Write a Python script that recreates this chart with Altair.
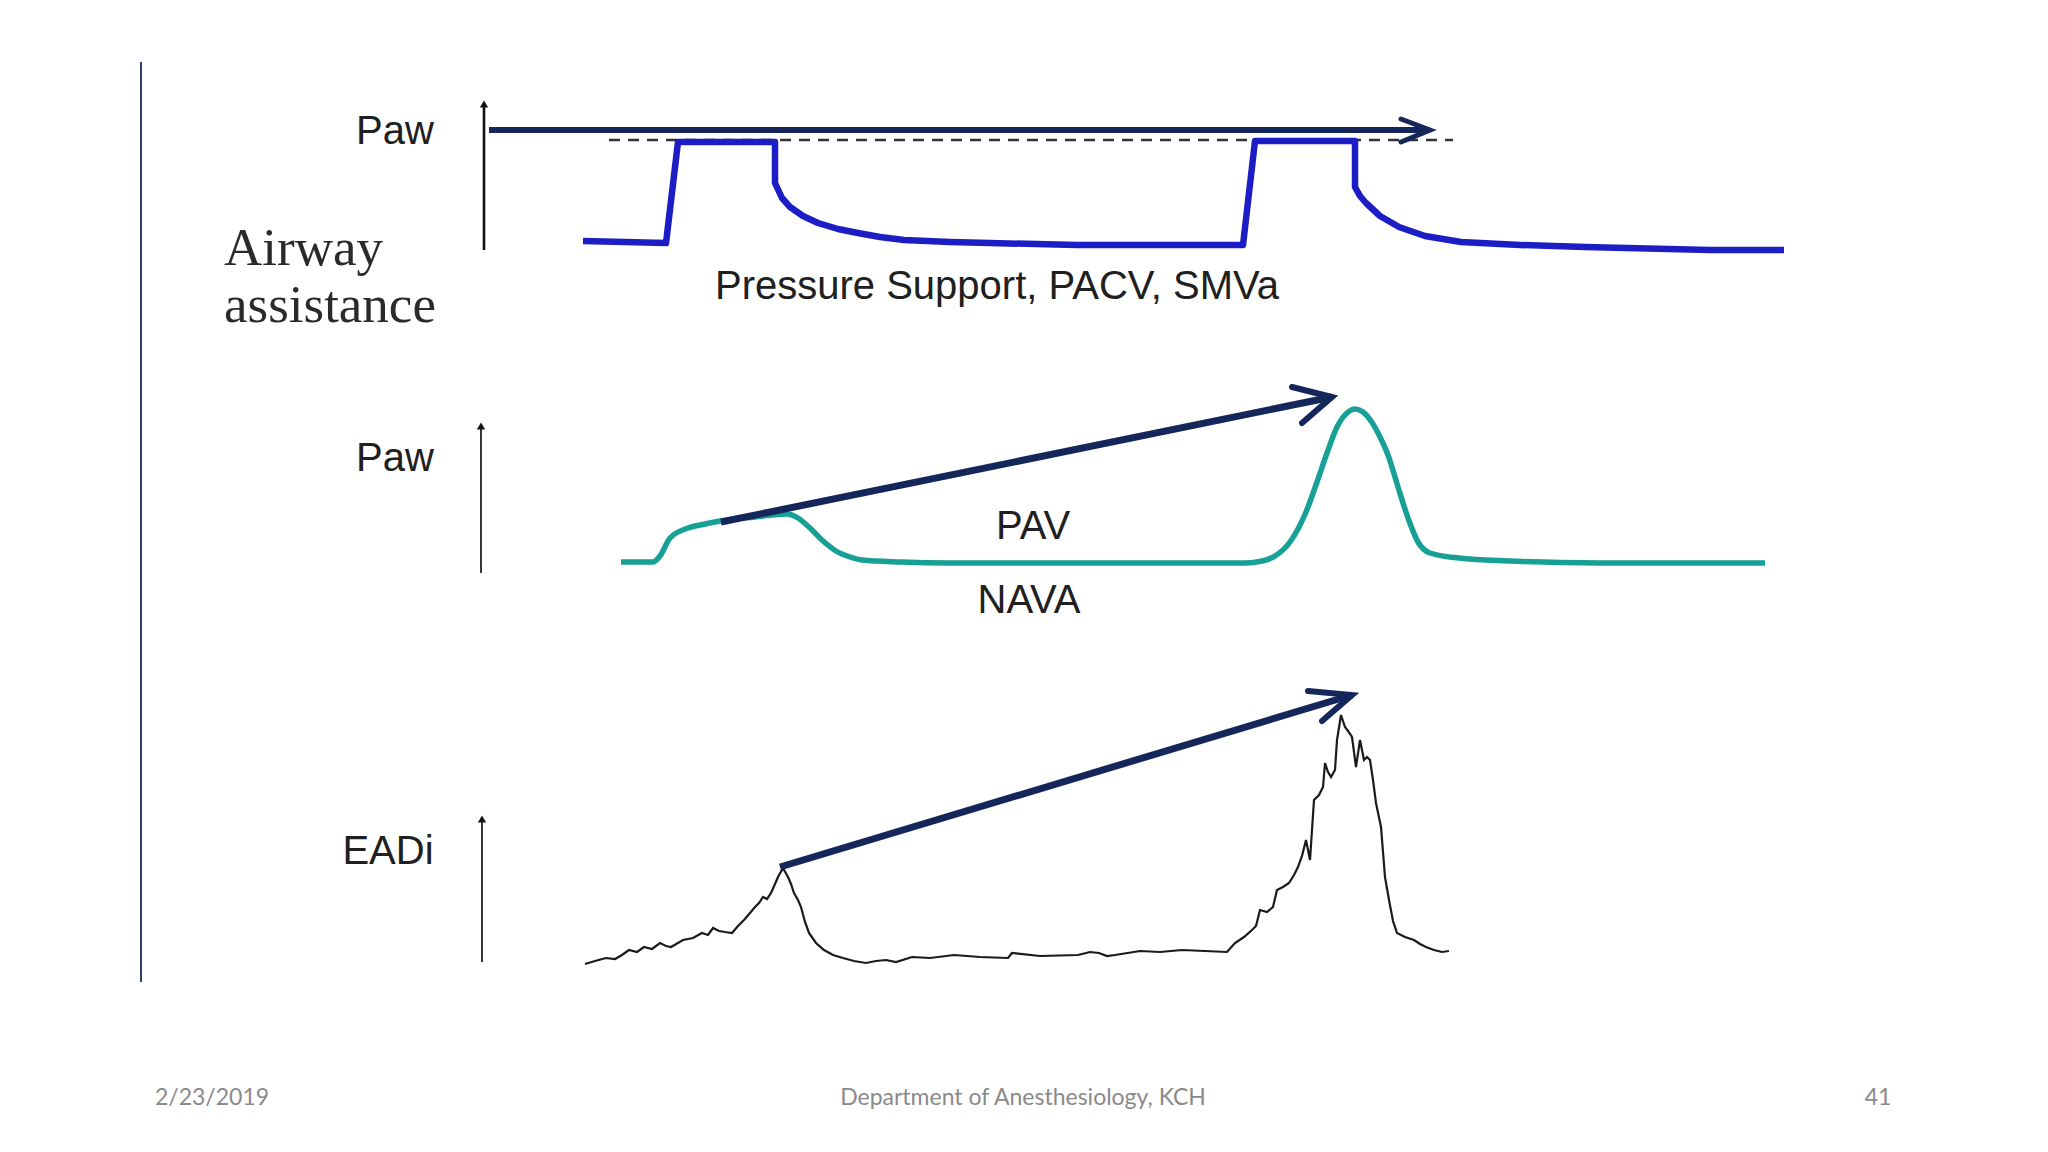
import altair as alt
import pandas as pd

W, H = 2048, 1152

# ---- values (pixel-space coordinates, y downwards) ----
# slide left border
border_x = [141]
border_y = [62]
border_y2 = [982]

# vertical axis arrows (top panel, middle panel, bottom panel)
axis_x = [484, 481, 482]
axis_top = [104, 426, 819]
axis_bottom = [250, 573, 962]

# top panel: pressure-support waveform
ps_x = [583, 666, 678, 775, 775, 782, 790, 803, 818, 838, 858, 880, 904, 950, 990, 1077, 1243,
        1255, 1355, 1355, 1360, 1366, 1380, 1399, 1425, 1461, 1520, 1585, 1710, 1784]
ps_y = [241, 243, 142, 142, 183, 198, 207, 216, 223, 229, 233, 237, 240, 242, 243, 245, 245,
        141, 141, 187, 196, 203, 216, 227, 236, 242, 245, 247, 250, 250]

# top panel: horizontal target arrow and dashed level
top_arrow_x = [489, 1430]
top_arrow_y = [130, 130]
top_head_x = [1401, 1430, 1401]
top_head_y = [119, 130, 142]
dash_x = [609]
dash_x2 = [1453]
dash_y = [140]

# middle panel: PAV / NAVA airway pressure
tl_x = [621, 653, 660, 670, 688, 705, 720, 755, 787, 798, 810, 822, 836, 850, 862, 900, 950, 1050,
        1150, 1245, 1262, 1275, 1290, 1306, 1317, 1327, 1337, 1347, 1355, 1363, 1371, 1380, 1388,
        1398, 1408, 1418, 1430, 1459, 1510, 1600, 1765]
tl_y = [562, 562, 556, 538, 528, 524, 521, 517, 514, 518, 528, 540, 551, 557, 560, 562, 563, 563,
        563, 563, 561, 556, 542, 512, 482, 453, 427, 413, 409, 412, 421, 437, 455,
        487, 518, 542, 553, 558, 561, 563, 563]
mid_arrow_x = [721, 1332]
mid_arrow_y = [522, 397]
mid_head_x = [1292, 1332, 1302]
mid_head_y = [387, 397, 423]

# bottom panel: EADi trace
ea_x = [585, 595, 606, 615, 622, 629, 637, 644, 652, 660, 666, 671, 683, 693, 702, 708, 713, 719, 725,
        732, 738, 744, 750, 755, 759, 763, 767, 771, 775, 778, 783, 788, 791, 794, 798, 801, 805, 809,
        816, 824, 833, 843, 854, 866, 876, 886, 896, 912, 930, 954, 980, 1008, 1012, 1040, 1078, 1090,
        1099, 1107, 1115, 1140, 1160, 1182, 1205, 1227, 1235, 1244, 1252, 1256, 1260, 1267, 1273,
        1277, 1283, 1289, 1294, 1298, 1302, 1306, 1310, 1314, 1319, 1323, 1325, 1328, 1331, 1335,
        1337, 1341, 1345, 1348, 1352, 1356, 1360, 1364, 1367, 1370, 1373, 1376, 1381, 1385, 1389,
        1393, 1397, 1405, 1414, 1420, 1426, 1434, 1442, 1449]
ea_y = [964, 961, 958, 959, 955, 950, 952, 947, 949, 943, 946, 947, 940, 938, 933, 935, 928, 931, 932,
        933, 926, 920, 913, 907, 903, 897, 899, 893, 884, 877, 868, 877, 884, 893, 900, 907, 922, 933,
        943, 950, 955, 958, 961, 963, 961, 960, 962, 957, 958, 955, 957, 958, 953, 956, 955, 952,
        953, 956, 955, 951, 952, 950, 951, 952, 943, 937, 930, 926, 910, 912, 907,
        890, 887, 883, 875, 867, 856, 840, 860, 800, 795, 787, 763, 772, 777, 770,
        740, 715, 727, 731, 737, 767, 740, 760, 757, 760, 780, 803, 827, 877, 900,
        921, 933, 937, 940, 944, 947, 950, 952, 951]
bot_arrow_x = [780, 1352]
bot_arrow_y = [867, 695]
bot_head_x = [1308, 1352, 1322]
bot_head_y = [691, 695, 721]

# text
sans_text = ["Paw", "Paw", "EADi", "Pressure Support, PACV, SMVa", "PAV", "NAVA"]
sans_x = [395, 395, 388, 997, 1033, 1029]
sans_y = [144, 471, 864, 299, 539, 613]
serif_text = ["Airway", "assistance"]
serif_x = [224, 224]
serif_y = [265, 322]
footer_text = ["2/23/2019", "Department of Anesthesiology, KCH", "41"]
footer_x = [212, 1023, 1878]
footer_y = [1098, 1098, 1098]

# ---- chart ----
xs = alt.Scale(domain=[0, W], range=[0, W], nice=False, zero=False)
ys = alt.Scale(domain=[0, H], range=[0, H], nice=False, zero=False)


def X(f="x"):
    return alt.X(f"{f}:Q", scale=xs, axis=None)


def Y(f="y"):
    return alt.Y(f"{f}:Q", scale=ys, axis=None)


def line_df(xv, yv):
    return pd.DataFrame({"x": xv, "y": yv, "i": list(range(len(xv)))})


NAVY = "#15275a"

border = alt.Chart(pd.DataFrame({"x": border_x, "y": border_y, "y2": border_y2})).mark_rule(
    color="#2a3f6e", strokeWidth=2).encode(x=X(), y=Y(), y2="y2:Q")

axes_df = pd.DataFrame({"x": axis_x, "y": axis_top, "y2": axis_bottom})
axis_top_rule = alt.Chart(axes_df.iloc[:1]).mark_rule(color="#111111", strokeWidth=2.6).encode(
    x=X(), y=Y(), y2="y2:Q")
axis_low_rule = alt.Chart(axes_df.iloc[1:]).mark_rule(color="#222222", strokeWidth=1.8).encode(
    x=X(), y=Y(), y2="y2:Q")
axis_heads = alt.Chart(axes_df).mark_point(shape="triangle-up", filled=True, color="#111111",
                                           size=70, opacity=1).encode(x=X(), y=Y())

dash = alt.Chart(pd.DataFrame({"x": dash_x, "x2": dash_x2, "y": dash_y})).mark_rule(
    color="#333333", strokeWidth=2.5, strokeDash=[11, 8]).encode(x=X(), x2="x2:Q", y=Y())

ps = alt.Chart(line_df(ps_x, ps_y)).mark_line(color="#1d1dc6", strokeWidth=6.5, strokeJoin="round").encode(
    x=X(), y=Y(), order="i:Q")


def arrow(lx, ly, hx, hy, width):
    a = alt.Chart(line_df(lx, ly)).mark_line(color=NAVY, strokeWidth=width, strokeCap="butt").encode(
        x=X(), y=Y(), order="i:Q")
    h = alt.Chart(line_df(hx, hy)).mark_line(color=NAVY, strokeWidth=width - 1, strokeCap="round",
                                             strokeJoin="miter").encode(x=X(), y=Y(), order="i:Q")
    return a + h


top_arrow = arrow(top_arrow_x, top_arrow_y, top_head_x, top_head_y, 6)

teal = alt.Chart(line_df(tl_x, tl_y)).mark_line(color="#17a096", strokeWidth=5.5, interpolate="monotone").encode(
    x=X(), y=Y(), order="i:Q")
mid_arrow = arrow(mid_arrow_x, mid_arrow_y, mid_head_x, mid_head_y, 7)

eadi = alt.Chart(line_df(ea_x, ea_y)).mark_line(color="#1a1a1a", strokeWidth=2.2).encode(
    x=X(), y=Y(), order="i:Q")
bot_arrow = arrow(bot_arrow_x, bot_arrow_y, bot_head_x, bot_head_y, 7)

sans = alt.Chart(pd.DataFrame({"t": sans_text, "x": sans_x, "y": sans_y})).mark_text(
    font="Liberation Sans", fontSize=40, color="#202020", align="center", baseline="alphabetic").encode(
    x=X(), y=Y(), text="t:N")
serif = alt.Chart(pd.DataFrame({"t": serif_text, "x": serif_x, "y": serif_y})).mark_text(
    font="Liberation Serif", fontSize=53, color="#2a2a2a", align="left", baseline="alphabetic").encode(
    x=X(), y=Y(), text="t:N")
footer = alt.Chart(pd.DataFrame({"t": footer_text, "x": footer_x, "y": footer_y})).mark_text(
    font="Lato", fontSize=23, color="#8a8a8a", align="center", baseline="middle").encode(
    x=X(), y=Y(), text="t:N")

chart = alt.layer(
    border, axis_top_rule, axis_low_rule, axis_heads, dash, ps, top_arrow,
    teal, mid_arrow, eadi, bot_arrow, sans, serif, footer
).properties(width=W, height=H, padding=0, autosize="none", background="white").configure_view(
    strokeWidth=0)

chart.save("out.html", embed_options={"renderer": "svg", "actions": False})
